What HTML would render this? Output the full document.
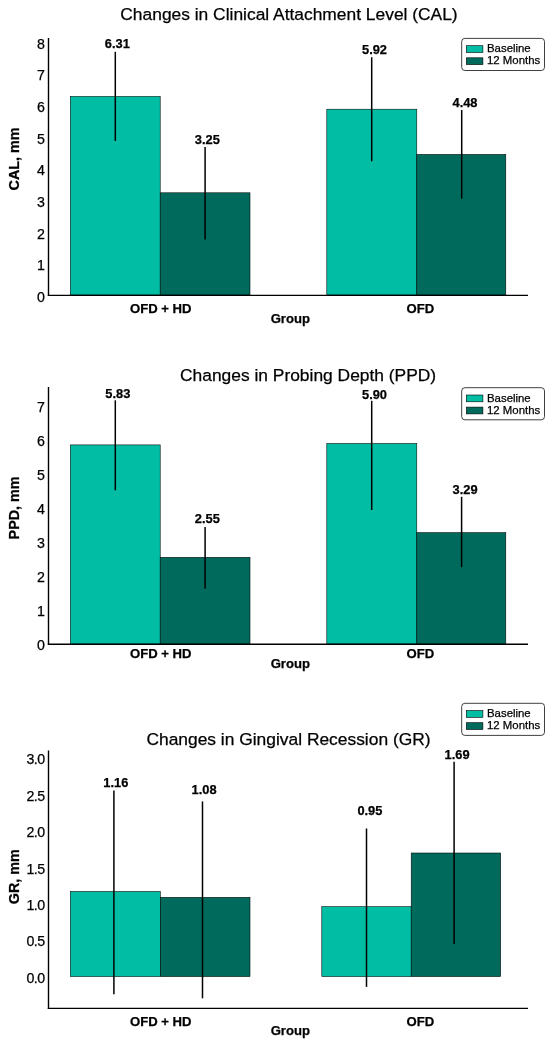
<!DOCTYPE html>
<html><head><meta charset="utf-8"><title>Changes in CAL, PPD, GR</title>
<style>html,body{margin:0;padding:0;background:#fff}svg{display:block}text{font-family:"Liberation Sans",Arial,sans-serif;fill:#000;stroke:#000;stroke-width:0.25px}.b{font-weight:bold}</style>
</head><body>
<svg width="550" height="1041" viewBox="0 0 550 1041">
<rect width="550" height="1041" fill="#ffffff"/>
<text x="289" y="20.4" font-size="17.4" text-anchor="middle">Changes in Clinical Attachment Level (CAL)</text>
<rect x="70.30" y="96.40" width="89.90" height="198.60" fill="#00bda4" stroke="#000" stroke-width="0.55"/>
<rect x="160.20" y="192.80" width="89.80" height="102.20" fill="#006b5d" stroke="#000" stroke-width="0.55"/>
<rect x="326.80" y="109.20" width="90.00" height="185.80" fill="#00bda4" stroke="#000" stroke-width="0.55"/>
<rect x="416.80" y="154.40" width="89.00" height="140.60" fill="#006b5d" stroke="#000" stroke-width="0.55"/>
<line x1="115.3" y1="51.8" x2="115.3" y2="141.0" stroke="#000" stroke-width="1.5"/>
<line x1="205.1" y1="147.0" x2="205.1" y2="239.6" stroke="#000" stroke-width="1.5"/>
<line x1="371.7" y1="57.2" x2="371.7" y2="161.3" stroke="#000" stroke-width="1.5"/>
<line x1="461.7" y1="110.0" x2="461.7" y2="198.7" stroke="#000" stroke-width="1.5"/>
<line x1="48.5" y1="38.0" x2="48.5" y2="296.0" stroke="#000" stroke-width="1.4"/>
<line x1="47.8" y1="295.4" x2="528.0" y2="295.4" stroke="#000" stroke-width="1.4"/>
<text x="44.9" y="301.95" font-size="14.2" text-anchor="end">0</text>
<text x="44.9" y="270.30" font-size="14.2" text-anchor="end">1</text>
<text x="44.9" y="238.65" font-size="14.2" text-anchor="end">2</text>
<text x="44.9" y="207.00" font-size="14.2" text-anchor="end">3</text>
<text x="44.9" y="175.35" font-size="14.2" text-anchor="end">4</text>
<text x="44.9" y="143.70" font-size="14.2" text-anchor="end">5</text>
<text x="44.9" y="112.05" font-size="14.2" text-anchor="end">6</text>
<text x="44.9" y="80.40" font-size="14.2" text-anchor="end">7</text>
<text x="44.9" y="48.75" font-size="14.2" text-anchor="end">8</text>
<text class="b" x="117.3" y="48.2" font-size="12.85" text-anchor="middle">6.31</text>
<text class="b" x="207.3" y="143.5" font-size="12.85" text-anchor="middle">3.25</text>
<text class="b" x="374.5" y="53.5" font-size="12.85" text-anchor="middle">5.92</text>
<text class="b" x="465.0" y="106.7" font-size="12.85" text-anchor="middle">4.48</text>
<text class="b" transform="translate(18.8,158.9) rotate(-90)" font-size="14.35" text-anchor="middle">CAL, mm</text>
<text class="b" x="160.8" y="313.2" font-size="13.1" text-anchor="middle">OFD + HD</text>
<text class="b" x="420.4" y="313.2" font-size="13.1" text-anchor="middle">OFD</text>
<text class="b" x="290.3" y="323.3" font-size="13.1" text-anchor="middle">Group</text>
<rect x="461.7" y="38.4" width="82.8" height="32.1" rx="3.2" ry="3.2" fill="#fff" stroke="#2a2a2a" stroke-width="0.9"/>
<rect x="466.3" y="45.70" width="16.6" height="6.8" fill="#00bda4" stroke="#000" stroke-width="0.6"/>
<rect x="466.3" y="57.80" width="16.6" height="6.8" fill="#006b5d" stroke="#000" stroke-width="0.6"/>
<text x="487.0" y="52.40" font-size="11.4">Baseline</text>
<text x="487.0" y="64.40" font-size="11.4">12 Months</text>
<text x="308.1" y="381.3" font-size="17.4" text-anchor="middle">Changes in Probing Depth (PPD)</text>
<rect x="70.30" y="444.90" width="89.90" height="199.20" fill="#00bda4" stroke="#000" stroke-width="0.55"/>
<rect x="160.20" y="557.30" width="89.80" height="86.80" fill="#006b5d" stroke="#000" stroke-width="0.55"/>
<rect x="326.80" y="443.50" width="90.00" height="200.60" fill="#00bda4" stroke="#000" stroke-width="0.55"/>
<rect x="416.80" y="532.60" width="89.00" height="111.50" fill="#006b5d" stroke="#000" stroke-width="0.55"/>
<line x1="115.3" y1="400.3" x2="115.3" y2="490.3" stroke="#000" stroke-width="1.5"/>
<line x1="205.1" y1="527.0" x2="205.1" y2="588.7" stroke="#000" stroke-width="1.5"/>
<line x1="371.7" y1="400.8" x2="371.7" y2="510.0" stroke="#000" stroke-width="1.5"/>
<line x1="461.6" y1="496.8" x2="461.6" y2="567.1" stroke="#000" stroke-width="1.5"/>
<line x1="48.5" y1="386.9" x2="48.5" y2="644.8000000000001" stroke="#000" stroke-width="1.4"/>
<line x1="47.8" y1="644.2" x2="528.0" y2="644.2" stroke="#000" stroke-width="1.4"/>
<text x="44.9" y="650.00" font-size="14.2" text-anchor="end">0</text>
<text x="44.9" y="615.97" font-size="14.2" text-anchor="end">1</text>
<text x="44.9" y="581.94" font-size="14.2" text-anchor="end">2</text>
<text x="44.9" y="547.91" font-size="14.2" text-anchor="end">3</text>
<text x="44.9" y="513.88" font-size="14.2" text-anchor="end">4</text>
<text x="44.9" y="479.85" font-size="14.2" text-anchor="end">5</text>
<text x="44.9" y="445.82" font-size="14.2" text-anchor="end">6</text>
<text x="44.9" y="411.79" font-size="14.2" text-anchor="end">7</text>
<text class="b" x="117.8" y="397.6" font-size="12.85" text-anchor="middle">5.83</text>
<text class="b" x="207.3" y="522.9" font-size="12.85" text-anchor="middle">2.55</text>
<text class="b" x="374.5" y="399.2" font-size="12.85" text-anchor="middle">5.90</text>
<text class="b" x="465.1" y="493.7" font-size="12.85" text-anchor="middle">3.29</text>
<text class="b" transform="translate(18.8,507.9) rotate(-90)" font-size="14.35" text-anchor="middle">PPD, mm</text>
<text class="b" x="160.8" y="658.2" font-size="13.1" text-anchor="middle">OFD + HD</text>
<text class="b" x="420.4" y="658.2" font-size="13.1" text-anchor="middle">OFD</text>
<text class="b" x="290.3" y="667.9" font-size="13.1" text-anchor="middle">Group</text>
<rect x="461.7" y="387.7" width="82.8" height="32.1" rx="3.2" ry="3.2" fill="#fff" stroke="#2a2a2a" stroke-width="0.9"/>
<rect x="466.3" y="395.00" width="16.6" height="6.8" fill="#00bda4" stroke="#000" stroke-width="0.6"/>
<rect x="466.3" y="407.10" width="16.6" height="6.8" fill="#006b5d" stroke="#000" stroke-width="0.6"/>
<text x="487.0" y="401.70" font-size="11.4">Baseline</text>
<text x="487.0" y="413.70" font-size="11.4">12 Months</text>
<text x="288.5" y="745.0" font-size="17.4" text-anchor="middle">Changes in Gingival Recession (GR)</text>
<rect x="70.30" y="891.50" width="90.00" height="85.10" fill="#00bda4" stroke="#000" stroke-width="0.55"/>
<rect x="160.30" y="897.30" width="89.70" height="79.30" fill="#006b5d" stroke="#000" stroke-width="0.55"/>
<rect x="321.80" y="906.60" width="89.40" height="70.00" fill="#00bda4" stroke="#000" stroke-width="0.55"/>
<rect x="411.20" y="853.00" width="89.50" height="123.60" fill="#006b5d" stroke="#000" stroke-width="0.55"/>
<line x1="113.9" y1="790.5" x2="113.9" y2="994.3" stroke="#000" stroke-width="1.5"/>
<line x1="202.5" y1="801.4" x2="202.5" y2="998.3" stroke="#000" stroke-width="1.5"/>
<line x1="366.5" y1="828.5" x2="366.5" y2="986.9" stroke="#000" stroke-width="1.5"/>
<line x1="454.1" y1="761.8" x2="454.1" y2="944.1" stroke="#000" stroke-width="1.5"/>
<line x1="48.5" y1="750.4" x2="48.5" y2="1009.0" stroke="#000" stroke-width="1.4"/>
<line x1="47.8" y1="1008.4" x2="528.0" y2="1008.4" stroke="#000" stroke-width="1.4"/>
<text x="44.5" y="982.70" font-size="14.2" text-anchor="end" letter-spacing="-0.6">0.0</text>
<text x="44.5" y="946.30" font-size="14.2" text-anchor="end" letter-spacing="-0.6">0.5</text>
<text x="44.5" y="909.90" font-size="14.2" text-anchor="end" letter-spacing="-0.6">1.0</text>
<text x="44.5" y="873.50" font-size="14.2" text-anchor="end" letter-spacing="-0.6">1.5</text>
<text x="44.5" y="837.10" font-size="14.2" text-anchor="end" letter-spacing="-0.6">2.0</text>
<text x="44.5" y="800.70" font-size="14.2" text-anchor="end" letter-spacing="-0.6">2.5</text>
<text x="44.5" y="764.30" font-size="14.2" text-anchor="end" letter-spacing="-0.6">3.0</text>
<text class="b" x="115.8" y="786.6" font-size="12.85" text-anchor="middle">1.16</text>
<text class="b" x="204.1" y="794.4" font-size="12.85" text-anchor="middle">1.08</text>
<text class="b" x="369.9" y="815.2" font-size="12.85" text-anchor="middle">0.95</text>
<text class="b" x="457.1" y="758.6" font-size="12.85" text-anchor="middle">1.69</text>
<text class="b" transform="translate(18.8,876.7) rotate(-90)" font-size="14.35" text-anchor="middle">GR, mm</text>
<text class="b" x="160.8" y="1025.9" font-size="13.1" text-anchor="middle">OFD + HD</text>
<text class="b" x="420.4" y="1025.9" font-size="13.1" text-anchor="middle">OFD</text>
<text class="b" x="290.3" y="1035.4" font-size="13.1" text-anchor="middle">Group</text>
<rect x="461.7" y="703.3" width="82.8" height="32.1" rx="3.2" ry="3.2" fill="#fff" stroke="#2a2a2a" stroke-width="0.9"/>
<rect x="466.3" y="710.60" width="16.6" height="6.8" fill="#00bda4" stroke="#000" stroke-width="0.6"/>
<rect x="466.3" y="722.70" width="16.6" height="6.8" fill="#006b5d" stroke="#000" stroke-width="0.6"/>
<text x="487.0" y="717.30" font-size="11.4">Baseline</text>
<text x="487.0" y="729.30" font-size="11.4">12 Months</text>
</svg>
</body></html>
